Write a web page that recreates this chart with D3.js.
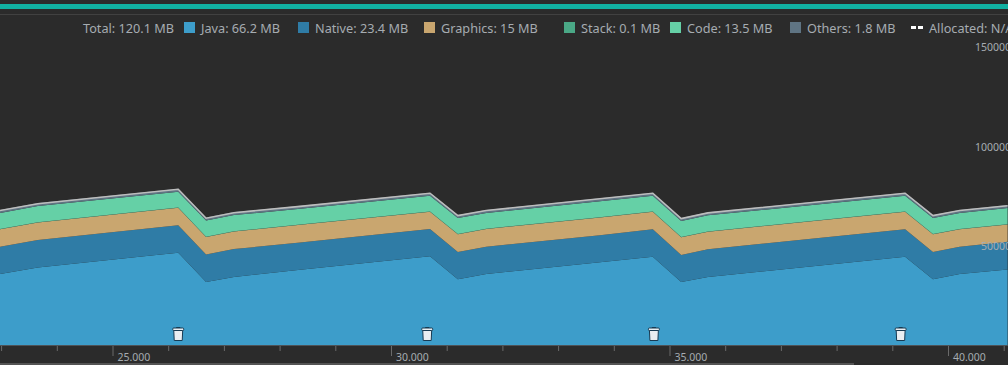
<!DOCTYPE html>
<html><head><meta charset="utf-8">
<script src="https://cdn.jsdelivr.net/npm/d3@7"></script>
<style>html,body{margin:0;padding:0;background:#2b2b2b;overflow:hidden}svg{display:block}
text{font-family:"Noto Sans","Open Sans",sans-serif;font-size:12.7px}</style>
</head><body><svg id="c" width="1008" height="365"></svg>
<script>
const times   =[22.98,23.66,26.18,26.68,27.18,28.37,30.70,31.20,31.71,33.75,34.70,35.21,35.69,39.23,39.73,40.21,41.07];
const java    =[35700,39000,46400,31700,34200,37800,44600,33000,35700,41600,44400,31700,34200,44400,33000,35700,38000];
const nativeM =[13720,13720,13770,13720,14000,13720,13720,13720,13720,13570,13770,13570,13900,13770,13720,13720,13850];
const graphics=[8750,8900,8850,8900,8850,8900,8700,8900,8900,8900,8850,8900,8850,8850,8900,8750,8750];
const stackM  =[100,100,100,100,100,100,100,100,100,100,100,100,100,100,100,100,100];
const code    =[8090,8090,7940,8090,8140,7940,7940,8090,7940,8090,7940,8090,8140,7940,8090,8090,8090];
const others  =[1500,1500,1500,1500,1500,1500,1500,1500,1500,1500,1500,1500,1500,1500,1500,1500,1500];
const gcTimes =[26.18,30.65,34.72,39.15];
const seriesNames=["Java","Native","Graphics","Stack","Code","Others"];
const seriesColors=["#3d9dca","#2f7ca6","#c9a66f","#4aa886","#65d0a6","#5f7483"];
const legendLabels=["Java: 66.2 MB","Native: 23.4 MB","Graphics: 15 MB","Stack: 0.1 MB","Code: 13.5 MB","Others: 1.8 MB"];
const legendSwatchX=[184,298,424,564,670,790];
const legendTextX=[201,315,441,581,687,807];
const totalLabel="Total: 120.1 MB";
const allocatedLabel="Allocated: N/A";
const yTicks=[50000,100000,150000];
const xMajor=[25,30,35,40];

const svg=d3.select("#c");
const x=d3.scaleLinear().domain([25,40]).range([112.5,948]);
const y=d3.scaleLinear().domain([0,150000]).range([345,46.5]);
const textCol="#a6acb1";
const tickFont='"Noto Sans","Open Sans",sans-serif';

// chrome
svg.append("rect").attr("x",0).attr("y",0).attr("width",1008).attr("height",365).attr("fill","#2b2b2b");
svg.append("rect").attr("x",0).attr("y",4).attr("width",1008).attr("height",5).attr("fill","#11b0a1");
svg.append("rect").attr("x",0).attr("y",14).attr("width",1008).attr("height",1).attr("fill","#414141");

// stacked areas
const rows=times.map((t,i)=>({t,Java:java[i],Native:nativeM[i],Graphics:graphics[i],Stack:stackM[i],Code:code[i],Others:others[i]}));
const layers=d3.stack().keys(seriesNames)(rows);
const area=d3.area().x(d=>x(d.data.t)).y0(d=>y(d[0])).y1(d=>y(d[1]));
svg.append("g").selectAll("path").data(layers).join("path")
  .attr("d",area).attr("fill",(d,i)=>seriesColors[i]);
const topLine=d3.line().x(d=>x(d.data.t)).y(d=>y(d[1]));
svg.append("path").datum(layers[5]).attr("d",topLine).attr("fill","none")
  .attr("stroke","#bdbdbd").attr("stroke-width",1.6).attr("transform","translate(0,0.6)");

// x axis
const minorVals=d3.range(23,42).filter(v=>!xMajor.includes(v));
svg.append("g").attr("transform","translate(0,345)")
  .call(d3.axisBottom(x).tickValues(minorVals).tickSize(6).tickFormat(""))
  .call(g=>{g.select(".domain").remove();g.selectAll("line").attr("stroke","#6a6a6a");});
const xa=svg.append("g").attr("transform","translate(0,345)")
  .call(d3.axisBottom(x).tickValues(xMajor).tickSize(11).tickFormat(d=>d3.format(".3f")(d)));
xa.select(".domain").remove();
xa.selectAll("line").attr("stroke","#6a6a6a");
xa.selectAll("text").attr("text-anchor","start").attr("x",4.5).attr("y",16).attr("dy",0)
  .attr("fill",textCol).style("font-size","10.5px").style("font-family",tickFont);
svg.append("line").attr("x1",0).attr("x2",1008).attr("y1",345.5).attr("y2",345.5).attr("stroke","#4d5358");

// y axis
const ya=svg.append("g").attr("transform","translate(1011,1)")
  .call(d3.axisLeft(y).tickValues(yTicks).tickSize(0).tickPadding(0).tickFormat(d3.format("d")));
ya.select(".domain").remove();
ya.selectAll("text").attr("fill",textCol).style("font-size","10.5px").style("font-family",tickFont);

// GC icons
const gc=svg.append("g").selectAll("g").data(gcTimes).join("g")
  .attr("transform",d=>`translate(${x(d)},0)`);
gc.append("path").attr("d",d3.line()([[-4.5,329.5],[-4,340.5],[4,340.5],[4.5,329.5]])+"Z")
  .attr("fill","#e9eef2").attr("stroke","#173a52");
gc.append("rect").attr("x",-5.5).attr("y",328).attr("width",11).attr("height",2.5).attr("rx",1)
  .attr("fill","#e9eef2").attr("stroke","#173a52");
gc.append("rect").attr("x",-2).attr("y",327).attr("width",4).attr("height",1).attr("fill","#173a52");

// legend
svg.append("text").attr("x",83).attr("y",33).attr("fill",textCol).text(totalLabel);
const lg=svg.append("g");
lg.selectAll("rect").data(seriesNames).join("rect")
  .attr("x",(d,i)=>legendSwatchX[i]).attr("y",22).attr("width",11).attr("height",11)
  .attr("fill",(d,i)=>seriesColors[i]);
lg.selectAll("text").data(legendLabels).join("text")
  .attr("x",(d,i)=>legendTextX[i]).attr("y",33).attr("fill",textCol).text(d=>d);
svg.append("line").attr("x1",911).attr("x2",923).attr("y1",27.5).attr("y2",27.5)
  .attr("stroke","#fff").attr("stroke-width",3).attr("stroke-dasharray","5 2");
svg.append("text").attr("x",929).attr("y",33).attr("fill",textCol).text(allocatedLabel);

// scrollbar
svg.append("rect").attr("x",0).attr("y",363).attr("width",854).attr("height",2).attr("fill","#545454");
</script></body></html>
